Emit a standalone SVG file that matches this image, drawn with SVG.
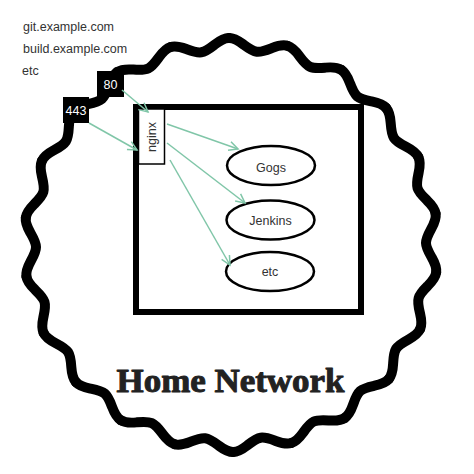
<svg xmlns="http://www.w3.org/2000/svg" xmlns:xlink="http://www.w3.org/1999/xlink" width="474" height="474" viewBox="0 0 474 474">
<style>
.lbl{font-family:"Liberation Sans",Arial,sans-serif;font-size:12.5px;fill:#333}
.port{font-family:"Liberation Sans",Arial,sans-serif;font-size:12.5px;fill:#fff;text-anchor:middle}
.mid{text-anchor:middle}
.conn{stroke:#80c6a8;stroke-width:1.5;fill:none;marker-end:url(#ah)}
.svc{fill:#fff;stroke:#000;stroke-width:2.5}
.wave{fill:none;stroke:#000;stroke-width:10;stroke-linecap:round}
</style>
<defs>
<marker id="ah" markerWidth="12" markerHeight="12" refX="10" refY="6" orient="auto" markerUnits="userSpaceOnUse">
<path d="M1,1.5 L10,6 L1,10.5" fill="none" stroke="#80c6a8" stroke-width="1.5"/>
</marker>
<path id="wv" class="wave" d="M207,0 C207,4.93 203.97,9.79 200.49,14.34 C197.02,18.89 193.67,23.16 193.01,27.75 C192.35,32.34 194.36,37.39 196.41,42.73 C198.46,48.07 200,53.59 198.61,58.32"/>
</defs>
<rect width="474" height="474" fill="#fff"/>
<g id="frame" transform="translate(231,245)">
<use xlink:href="#wv" transform="rotate(7.6)"/>
<use xlink:href="#wv" transform="rotate(23.964)"/>
<use xlink:href="#wv" transform="rotate(40.327)"/>
<use xlink:href="#wv" transform="rotate(56.691)"/>
<use xlink:href="#wv" transform="rotate(73.055)"/>
<use xlink:href="#wv" transform="rotate(89.418)"/>
<use xlink:href="#wv" transform="rotate(105.782)"/>
<use xlink:href="#wv" transform="rotate(122.145)"/>
<use xlink:href="#wv" transform="rotate(138.509)"/>
<use xlink:href="#wv" transform="rotate(154.873)"/>
<use xlink:href="#wv" transform="rotate(171.236)"/>
<use xlink:href="#wv" transform="rotate(187.6)"/>
<use xlink:href="#wv" transform="rotate(203.964)"/>
<use xlink:href="#wv" transform="rotate(220.327)"/>
<use xlink:href="#wv" transform="rotate(236.691)"/>
<use xlink:href="#wv" transform="rotate(253.055)"/>
<use xlink:href="#wv" transform="rotate(269.418)"/>
<use xlink:href="#wv" transform="rotate(285.782)"/>
<use xlink:href="#wv" transform="rotate(302.145)"/>
<use xlink:href="#wv" transform="rotate(318.509)"/>
<use xlink:href="#wv" transform="rotate(334.873)"/>
<use xlink:href="#wv" transform="rotate(351.236)"/>
</g>
<g id="domains">
<text class="lbl" x="23" y="30.5">git.example.com</text>
<text class="lbl" x="23" y="52.5">build.example.com</text>
<text class="lbl" x="22" y="74.5">etc</text>
</g>
<g id="server">
<rect x="136" y="107" width="225" height="205" fill="none" stroke="#000" stroke-width="6"/>
</g>
<g id="port443">
<rect x="63" y="97" width="26" height="26" fill="#000"/>
<text class="port" x="76" y="114.5">443</text>
</g>
<g id="port80">
<rect x="97" y="71" width="27" height="26" fill="#000"/>
<text class="port" x="110.5" y="88.5">80</text>
</g>
<g id="nginx">
<rect x="138.5" y="109" width="26" height="55" fill="#fff" stroke="#000" stroke-width="1.5"/>
<text class="lbl mid" transform="translate(151.5,137) rotate(-90)" x="0" y="4.5">nginx</text>
</g>
<g id="gogs">
<ellipse class="svc" cx="271" cy="165.5" rx="44" ry="19.5"/>
<text class="lbl mid" x="271" y="171.5">Gogs</text>
</g>
<g id="jenkins">
<ellipse class="svc" cx="270.5" cy="220" rx="44" ry="19.5"/>
<text class="lbl mid" x="270.5" y="225">Jenkins</text>
</g>
<g id="etc">
<ellipse class="svc" cx="270" cy="271.5" rx="44" ry="19.5"/>
<text class="lbl mid" x="270" y="275.5">etc</text>
</g>
<g id="connectors">
<line class="conn" x1="122" y1="90" x2="148" y2="112"/>
<line class="conn" x1="89" y1="123" x2="137" y2="150"/>
<line class="conn" x1="167" y1="124" x2="238" y2="149"/>
<line class="conn" x1="167" y1="143" x2="245" y2="203"/>
<line class="conn" x1="170" y1="160" x2="230" y2="265"/>
</g>
<g id="title">
<text x="116.5" y="392" textLength="228" lengthAdjust="spacingAndGlyphs" style="font-family:'Liberation Serif','Times New Roman',serif;font-weight:bold;font-size:34px;fill:#222;stroke:#222;stroke-width:1;stroke-linejoin:round">Home Network</text>
</g>
</svg>
